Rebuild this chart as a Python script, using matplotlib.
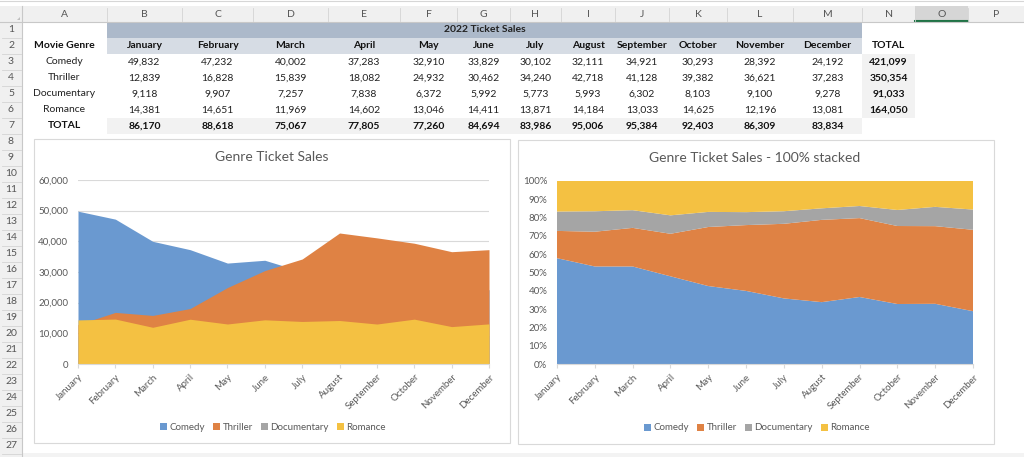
import numpy as np
import matplotlib
matplotlib.use('Agg')
import matplotlib.pyplot as plt
from matplotlib.patches import Rectangle, Patch, Polygon
from matplotlib.ticker import FuncFormatter
from matplotlib.transforms import Bbox, TransformedBbox

plt.rcParams['font.family'] = ['Lato', 'DejaVu Sans']

# data read from the sheet
months = ['January', 'February', 'March', 'April', 'May', 'June', 'July',
          'August', 'September', 'October', 'November', 'December']
genres = ['Comedy', 'Thriller', 'Documentary', 'Romance']
comedy = [49832, 47232, 40002, 37283, 32910, 33829, 30102, 32111, 34921, 30293, 28392, 24192]
thriller = [12839, 16828, 15839, 18082, 24932, 30462, 34240, 42718, 41128, 39382, 36621, 37283]
documentary = [9118, 9907, 7257, 7838, 6372, 5992, 5773, 5993, 6302, 8103, 9100, 9278]
romance = [14381, 14651, 11969, 14602, 13046, 14411, 13871, 14184, 13033, 14625, 12196, 13081]
genre_totals = [421099, 350354, 91033, 164050]
month_totals = [86170, 88618, 75067, 77805, 77260, 84694, 83986, 95006, 95384, 92403, 86309, 83834]
col_letters = list('ABCDEFGHIJKLMNOP')
n_rows = 27

colors = ['#6a99d0', '#df8244', '#a5a5a5', '#f4c142']
series = [comedy, thriller, documentary, romance]

# sheet geometry (screen pixels)
W, H = 1024, 457
col_edges = [22, 107, 182, 253, 328, 400, 457, 510, 561, 615, 669, 727, 793, 862, 915, 968, 1024]
row_top = 22
row_h = 16

fig = plt.figure(figsize=(W / 100, H / 100), dpi=100)
sheet = fig.add_axes([0, 0, 1, 1])
sheet.set_xlim(0, W)
sheet.set_ylim(H, 0)
sheet.axis('off')


def cx(i):
    return (col_edges[i] + col_edges[i + 1]) / 2


def ry(r):
    return row_top + row_h * (r - 1) + row_h / 2


# headers
sheet.add_patch(Rectangle((0, 0), W, 6, fc='white', ec='none'))
sheet.plot([0, W], [1, 1], color='#d6d6d6', lw=0.8)
sheet.add_patch(Rectangle((0, 6), W, 16, fc='#f0f0f0', ec='none'))
sheet.add_patch(Rectangle((0, 6), 22, H - 6, fc='#f0f0f0', ec='none'))
sheet.add_patch(Rectangle((915, 6), 53, 16, fc='#d6d6d6', ec='none'))
sheet.plot([915, 968], [21.3, 21.3], color='#217346', lw=1.5)
sheet.add_patch(Polygon([[17, 20], [20, 20], [20, 17]], closed=True, fc='#bfbfbf', ec='none'))
for e in col_edges:
    sheet.plot([e, e], [8, 21], color='#d4d4d4', lw=0.6)
for r in range(1, n_rows + 2):
    y = row_top + row_h * (r - 1)
    sheet.plot([2, 21], [y, y], color='#d4d4d4', lw=0.6)
sheet.plot([22, 22], [6, H], color='#c8c8c8', lw=0.8)
sheet.plot([0, W], [22, 22], color='#c8c8c8', lw=0.8)
sheet.add_patch(Rectangle((22, 453), W, 4, fc='#f3f3f3', ec='none'))
for i, c in enumerate(col_letters):
    sheet.text(cx(i), 14.5, c, ha='center', va='center', fontsize=7.5, color='#555555')
for r in range(1, n_rows + 1):
    sheet.text(11, ry(r), str(r), ha='center', va='center', fontsize=7.5, color='#555555')

# table
sheet.add_patch(Rectangle((107, 22), 862 - 107, 16, fc='#acb9ca', ec='none'))
sheet.add_patch(Rectangle((107, 38), 862 - 107, 16, fc='#d6dce4', ec='none'))
sheet.add_patch(Rectangle((862, 54), 53, 64, fc='#f2f2f2', ec='none'))
sheet.add_patch(Rectangle((107, 118), 862 - 107, 16, fc='#f2f2f2', ec='none'))
sheet.text((107 + 862) / 2, ry(1), '2022 Ticket Sales', ha='center', va='center',
           fontsize=7.5, fontweight='bold', color='#222222')
sheet.text(cx(0), ry(2), 'Movie Genre', ha='center', va='center', fontsize=7.5, fontweight='bold', color='#111111')
sheet.text(cx(13), ry(2), 'TOTAL', ha='center', va='center', fontsize=7.5, fontweight='bold', color='#111111')
for j, m in enumerate(months):
    t = sheet.text(cx(j + 1), ry(2), m, ha='center', va='center', fontsize=7.5,
                   fontweight='bold', color='#111111')
    clip = TransformedBbox(Bbox([[col_edges[j + 1], 38], [col_edges[j + 2] - 1, 54]]), sheet.transData)
    t.set_clip_box(clip)
    t.set_clip_on(True)
for g, (name, vals) in enumerate(zip(genres, series)):
    r = 3 + g
    sheet.text(cx(0), ry(r), name, ha='center', va='center', fontsize=7.5, color='#222222')
    for j, v in enumerate(vals):
        sheet.text(cx(j + 1), ry(r), f'{v:,}', ha='center', va='center', fontsize=7.5, color='#222222')
    sheet.text(cx(13), ry(r), f'{genre_totals[g]:,}', ha='center', va='center', fontsize=7.5,
               fontweight='bold', color='#111111')
sheet.text(cx(0), ry(7), 'TOTAL', ha='center', va='center', fontsize=7.5, fontweight='bold', color='#111111')
for j, v in enumerate(month_totals):
    sheet.text(cx(j + 1), ry(7), f'{v:,}', ha='center', va='center', fontsize=7.5,
               fontweight='bold', color='#111111')

# chart frames
sheet.add_patch(Rectangle((34, 139), 476, 304, fc='white', ec='#d9d9d9', lw=0.8))
sheet.add_patch(Rectangle((518, 140), 476, 304, fc='white', ec='#d9d9d9', lw=0.8))
sheet.text(272, 157, 'Genre Ticket Sales', ha='center', va='center', fontsize=10, color='#595959')
sheet.text(755, 158, 'Genre Ticket Sales - 100% stacked', ha='center', va='center', fontsize=10, color='#595959')


def px_axes(x0, x1, y0, y1):
    return fig.add_axes([x0 / W, (H - y1) / H, (x1 - x0) / W, (y1 - y0) / H])


def style(ax):
    for s in ['top', 'right', 'left']:
        ax.spines[s].set_visible(False)
    ax.spines['bottom'].set_color('#d9d9d9')
    ax.spines['bottom'].set_linewidth(0.8)
    ax.set_xlim(0, len(months) - 1)
    ax.set_xticks(range(len(months)))
    ax.set_xticklabels(months, rotation=45, ha='right', rotation_mode='anchor')
    ax.tick_params(axis='x', length=3, width=0.8, color='#d9d9d9', pad=3, labelsize=7, labelcolor='#595959')
    ax.tick_params(axis='y', length=0, pad=7, labelsize=7, labelcolor='#595959')
    ax.set_facecolor('none')


x = np.arange(len(months))
handles = [Patch(fc=c, ec='none', label=g) for g, c in zip(genres, colors)]
legend_kw = dict(loc='center', bbox_transform=fig.transFigure, ncol=4, frameon=False, fontsize=7,
                 handlelength=0.7, handleheight=0.7, handletextpad=0.3, columnspacing=0.8,
                 labelcolor='#595959')

# left: overlapping areas
ax1 = px_axes(78, 489, 180, 364)
ax1.set_axisbelow(True)
ax1.yaxis.grid(True, color='#d9d9d9', lw=0.8)
for vals, c in zip(series, colors):
    ax1.fill_between(x, 0, vals, color=c, lw=0)
ax1.set_ylim(0, 60000)
ax1.set_yticks(range(0, 60001, 10000))
ax1.yaxis.set_major_formatter(FuncFormatter(lambda v, p: f'{v:,.0f}'))
style(ax1)
ax1.legend(handles=handles, bbox_to_anchor=(273 / W, (H - 427) / H), **legend_kw)

# right: 100% stacked
ax2 = px_axes(557, 973, 181, 364)
totals = np.sum(series, axis=0)
shares = [np.array(v) / totals * 100 for v in series]
ax2.stackplot(x, *shares, colors=colors, lw=0)
ax2.set_ylim(0, 100)
ax2.set_yticks(range(0, 101, 10))
ax2.yaxis.set_major_formatter(FuncFormatter(lambda v, p: f'{v:.0f}%'))
style(ax2)
ax2.legend(handles=handles, bbox_to_anchor=(757 / W, (H - 428) / H), **legend_kw)

fig.savefig('out.png', dpi=100)
